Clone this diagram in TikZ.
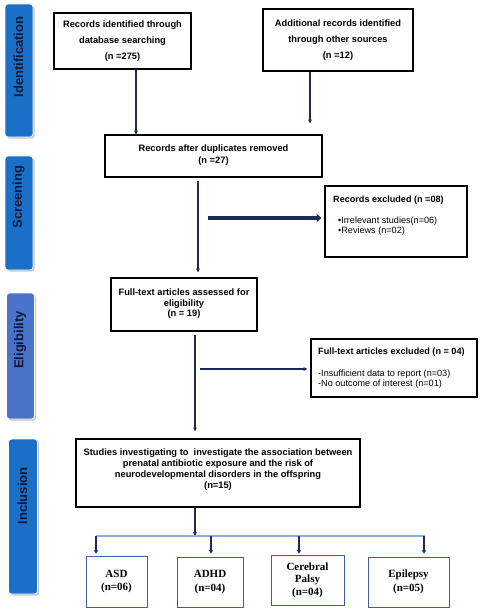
\documentclass[tikz,border=0pt]{standalone}
\usepackage{fontspec}
\setmainfont{Liberation Sans}
\newfontfamily\serifbold{Liberation Serif}
\usetikzlibrary{arrows.meta,shadows}
\definecolor{barblue}{HTML}{1A6FC6}
\definecolor{barblue2}{HTML}{4A73CA}
\definecolor{navy}{HTML}{1B2A5C}
\definecolor{hub}{HTML}{8FAEDD}
\definecolor{smallbox}{HTML}{3E5E9E}
\definecolor{bartext}{HTML}{0E1A3A}
\begin{document}
\begin{tikzpicture}[x=1pt,y=-1pt,
  phase/.style={draw=white, line width=0.8pt, rounded corners=3pt, minimum width=28, inner sep=0pt,
    drop shadow={shadow xshift=1.6pt, shadow yshift=-1.6pt, fill=black!40, opacity=0.55}},
  phaselabel/.style={rotate=90, font=\fontsize{13}{15}\selectfont\bfseries, text=bartext, inner sep=0pt},
  mainbox/.style={draw=black, line width=1.1pt, align=center, inner sep=0pt,
    font=\fontsize{9.3}{10.7}\selectfont\bfseries},
  exbox/.style={draw=black, line width=1.1pt, inner sep=0pt},
  extext/.style={anchor=north west, align=left, inner sep=0pt, font=\fontsize{9.1}{10.3}\selectfont},
  catbox/.style={draw=smallbox, line width=1pt, align=center, inner sep=0pt, minimum height=50,
    font=\fontsize{11}{13.5}\selectfont\serifbold\bfseries},
  arr/.style={draw=navy, line width=1.2pt, -{Stealth[length=4pt,width=4pt]}},
  thickarr/.style={draw=navy, line width=3.2pt, -{Stealth[length=5pt,width=8.5pt]}},
  catarr/.style={draw=navy, line width=1.8pt, -{Stealth[length=3.5pt,width=4.5pt]}}
]
\useasboundingbox (0,0) rectangle (480,609);

% phase bars
\node[phase, fill=barblue, minimum height=133] (p1) at (19,70.5) {};
\node[phaselabel] (l1) at (18.5,57) {Identification};
\node[phase, fill=barblue, minimum height=114] (p2) at (19,213) {};
\node[phaselabel] (l2) at (18.5,197) {Screening};
\node[phase, fill=barblue2, minimum height=126] (p3) at (20.5,356) {};
\node[phaselabel] (l3) at (20,340) {Eligibility};
\node[phase, fill=barblue, minimum height=155, minimum width=29] (p4) at (23,516.5) {};
\node[phaselabel] (l4) at (22.5,496) {Inclusion};

% main boxes
\node[mainbox, minimum width=137, minimum height=56] (b1) at (122.5,41)
  {Records identified through\\[5.2pt] database searching\\[5.2pt] (n =275)};
\node[mainbox, minimum width=150, minimum height=62] (b2) at (338,40)
  {Additional records identified\\[5.2pt] through other sources\\[5.2pt] (n =12)};
\node[mainbox, minimum width=217, minimum height=42] (b3) at (213.5,156)
  {Records after duplicates removed\\[1.3pt] (n =27)\\[-6pt]\mbox{}};
\node[mainbox, minimum width=146, minimum height=53] (b4) at (184,304.5)
  {Full-text articles assessed for\\ eligibility\\ (n = 19)\\[-7pt]\mbox{}};
\node[mainbox, minimum width=284, minimum height=68] (b5) at (218,473)
  {Studies investigating to\ \ investigate the association between\\
   prenatal antibiotic exposure and the risk of\\
   neurodevelopmental disorders in the offspring\\
   (n=15)\\[-2pt]\mbox{}};

% exclusion boxes
\node[exbox, minimum width=142, minimum height=71] (e1) at (396,221.5) {};
\node[extext] (e1t) at (333,196)
  {\textbf{Records excluded (n =08)}\\[10pt]
   \hspace{5pt}•Irrelevant studies(n=06)\\
   \hspace{5pt}•Reviews (n=02)};
\node[exbox, minimum width=166, minimum height=58] (e2) at (394,368) {};
\node[extext] (e2t) at (318,347.5)
  {\textbf{Full-text articles excluded (n = 04)}\\[11.5pt]
   -Insufficient data to report (n=03)\\
   -No outcome of interest (n=01)};

% category boxes
\node[catbox, minimum width=61, minimum height=51] (c1) at (116.5,581.5) {ASD\\(n=06)};
\node[catbox, minimum width=66] (c2) at (210,582) {ADHD\\(n=04)};
\node[catbox, minimum width=73] (c3) at (307.5,580) {Cerebral\\[-1pt]Palsy\\[-1pt](n=04)};
\node[catbox, minimum width=81] (c4) at (408.5,582) {Epilepsy\\(n=05)};

% helper coordinates
\coordinate (x1) at (136,0);
\coordinate (x2) at (310,0);
\coordinate (x3) at (198,0);
\coordinate (x4) at (195,0);
\coordinate (t1) at (208,218);
\coordinate (t2) at (200,369);
\coordinate (hl) at (96,536);
\coordinate (hr) at (425,536);
\coordinate (hm) at (195,536);
\coordinate (h2) at (211,536);
\coordinate (h3) at (299,536);
\coordinate (h4) at (424,536);

% connectors
\draw[arr] (b1.south -| x1) -- (b3.north -| x1);
\draw[arr, shorten >=11pt] (b2.south -| x2) -- (b3.north -| x2);
\draw[arr, shorten <=3pt, shorten >=5pt] (b3.south -| x3) -- (b4.north -| x3);
\draw[thickarr, shorten >=3pt] (t1) -- (e1.west |- t1);
\draw[arr, shorten <=3pt, shorten >=7pt] (b4.south -| x4) -- (b5.north -| x4);
\draw[arr, line width=1.4pt, shorten >=3pt] (t2) -- (e2.west |- t2);
\draw[arr, line width=1.8pt] (b5.south -| x4) -- (hm);
\draw[draw=hub, line width=1.5pt] (hl) -- (hr);
\draw[catarr, shorten >=2pt] (hl) -- (c1.north -| hl);
\draw[catarr, shorten >=3pt] (h2) -- (c2.north -| h2);
\draw[catarr, shorten >=1pt] (h3) -- (c3.north -| h3);
\draw[catarr, shorten >=3pt] (h4) -- (c4.north -| h4);
\end{tikzpicture}
\end{document}
